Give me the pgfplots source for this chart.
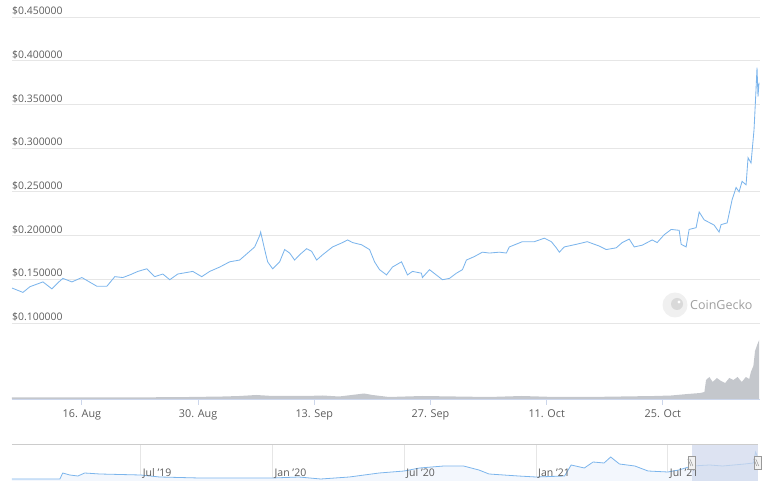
\documentclass[border=0pt]{standalone}
\usepackage{pgfplots}
\pgfplotsset{compat=1.18}
\usepackage{fontspec}
\setmainfont{Open Sans}
\definecolor{linec}{HTML}{7CB5EC}
\definecolor{gridc}{HTML}{E6E6E6}
\definecolor{labc}{HTML}{5C5C5C}
\definecolor{axc}{HTML}{CCD6EB}
\definecolor{navb}{HTML}{CCCCCC}
\definecolor{navfill}{HTML}{F3F7FD}
\definecolor{selc}{HTML}{D1DAED}
\definecolor{volc}{HTML}{C4C7CC}
\tikzset{navlab/.style={anchor=base west, inner sep=0pt, font=\fontsize{10.5}{12}\selectfont, text=labc, xshift=2pt, yshift=4pt}}

\pgfplotstableread{
d p
6.58 0.140
7.90 0.135
8.74 0.1415
10.31 0.147
11.39 0.139
12.11 0.146
12.71 0.151
13.80 0.147
15.00 0.152
15.72 0.148
16.81 0.142
18.01 0.142
18.97 0.153
19.93 0.152
20.78 0.155
21.74 0.159
22.82 0.162
23.78 0.153
24.75 0.156
25.59 0.1495
26.55 0.156
28.36 0.159
29.44 0.153
30.40 0.159
31.61 0.164
32.81 0.170
34.01 0.172
34.98 0.180
35.82 0.187
36.42 0.200
36.54 0.204
37.02 0.184
37.38 0.170
37.98 0.162
38.83 0.170
39.43 0.184
40.03 0.180
40.63 0.172
41.23 0.178
42.08 0.185
42.68 0.182
43.28 0.172
44.00 0.178
45.20 0.187
46.41 0.192
47.01 0.195
47.61 0.192
48.69 0.1895
49.66 0.184
50.26 0.170
50.86 0.161
51.70 0.155
52.42 0.164
53.51 0.170
54.23 0.155
54.83 0.159
55.90 0.157
56.03 0.152
56.88 0.161
58.44 0.1495
59.28 0.151
60.13 0.157
60.85 0.161
61.33 0.172
62.29 0.176
63.25 0.181
64.10 0.180
65.30 0.181
66.14 0.180
66.50 0.187
68.07 0.193
68.91 0.193
69.51 0.193
70.72 0.197
71.56 0.193
72.16 0.186
72.52 0.181
73.12 0.187
74.57 0.190
75.89 0.193
77.33 0.188
78.18 0.184
79.38 0.186
80.10 0.192
80.94 0.196
81.55 0.187
82.51 0.189
83.71 0.195
84.31 0.192
85.16 0.201
86.00 0.207
86.96 0.206
87.20 0.190
87.80 0.187
88.16 0.207
89.00 0.209
89.37 0.227
89.97 0.218
91.17 0.212
91.77 0.204
92.01 0.2125
92.74 0.2145
93.34 0.241
93.82 0.255
94.18 0.250
94.54 0.262
95.02 0.258
95.26 0.289
95.62 0.283
95.98 0.321
96.22 0.367
96.34 0.392
96.46 0.359
96.58 0.375
}\pricetable

\pgfplotstableread{
d v
6.58 1.5
10 1.5
20 1.5
28 2
32 2.5
34 3
36 4
38 3
42 3
44 3.5
46 2.5
48 4.5
49 5.5
50 4
52 2
56 3
60 2.5
64 2
68 3
72 2
76 2
80 2.5
84 3
86 3.5
88 5
89.5 6
90 7
90.2 19
90.6 22
91 17
91.5 21
92 18
92.5 16
93 21
93.5 19
94 22
94.5 17
95 22
95.4 20
95.6 27
95.9 33
96.1 48
96.4 55
96.6 59
}\voltable

\pgfplotstableread{
m v
0.14 2
2.32 2
2.45 8
2.77 6
3.14 5
3.45 8
4.14 7
6 6
6.86 4
8.68 3
12 3
13.2 4
14.2 2
15.5 4
16.86 8
18 10
18.7 13
19.8 15
20.7 15
21.4 11
21.86 7
23.2 5
24 4
25.3 5
25.6 16
26.2 13
26.6 19
27.1 18
27.4 24
27.8 17
28.5 15
29.1 10
30 9
30.5 11
31.1 15
31.9 16
32.5 15
33.5 17
33.9 18
34.0 29
34.1 23
}\navtable

\begin{document}
\begin{tikzpicture}
\useasboundingbox (0pt,0pt) rectangle (768pt,497pt);

% price pane
\begin{axis}[
  at={(12pt,174pt)}, anchor=south west, scale only axis,
  width=748pt, height=306pt,
  xmin=6.58, xmax=96.7, ymin=0.1, ymax=0.45,
  axis line style={draw=none},
  xtick=\empty,
  ytick={0.10,0.15,0.20,0.25,0.30,0.35,0.40,0.45},
  yticklabels={\$0.100000,\$0.150000,\$0.200000,\$0.250000,\$0.300000,\$0.350000,\$0.400000,\$0.450000},
  ymajorgrids, grid style={color=gridc, line width=0.8pt},
  major tick length=0pt,
  yticklabel style={anchor=south west, inner sep=0pt, yshift=1.5pt,
    font=\fontsize{10.4}{12}\selectfont, text=labc},
]
\addplot[color=linec, line width=0.85pt] table[x=d, y=p] {\pricetable};
\end{axis}

% volume pane with date axis
\begin{axis}[
  at={(12pt,98pt)}, anchor=south west, scale only axis,
  width=748pt, height=64pt,
  xmin=6.58, xmax=96.7, ymin=0, ymax=64,
  axis x line*=bottom, axis y line=none,
  x axis line style={color=axc, line width=0.8pt, -},
  xtick={15,29,43,57,71,85},
  xticklabels={16. Aug,30. Aug,13. Sep,27. Sep,11. Oct,25. Oct},
  ytick=\empty,
  tick style={color=axc, line width=0.8pt},
  major tick length=6pt, tick align=outside,
  xticklabel style={font=\fontsize{10.8}{12}\selectfont, text=labc, yshift=-1pt},
]
\addplot[draw=none, fill=volc] table[x=d, y=v] {\voltable} \closedcycle;
\end{axis}

% navigator
\begin{axis}[
  at={(12pt,16pt)}, anchor=south west, scale only axis,
  width=748pt, height=37pt,
  xmin=0.14, xmax=34.2, ymin=0, ymax=37,
  axis line style={draw=none},
  xtick={6,12,18,24,30}, xticklabels=\empty,
  xmajorgrids, grid style={color=gridc, line width=0.8pt},
  ytick=\empty, major tick length=0pt,
  clip=false,
]
\addplot[draw=none, fill=navfill] table[x=m, y=v] {\navtable} \closedcycle;
\addplot[color=linec, line width=0.8pt] table[x=m, y=v] {\navtable};
\fill[selc, fill opacity=0.75] (axis cs:31.1,0) rectangle (axis cs:34.1,37);
\draw[navb, line width=0.8pt] (rel axis cs:0,1) -- (axis cs:31.1,37);
\draw[navb, line width=0.8pt] (axis cs:31.1,37) -- (axis cs:34.1,37);
\node[navlab] at (axis cs:6,0) {Jul '19};
\node[navlab] at (axis cs:12,0) {Jan '20};
\node[navlab] at (axis cs:18,0) {Jul '20};
\node[navlab] at (axis cs:24,0) {Jan '21};
\node[navlab] at (axis cs:30,0) {Jul '21};
\draw[fill=white!95!black, draw=gray!80, line width=0.6pt]
  (axis cs:31.1,18.5) ++(-3.5pt,-6.5pt) rectangle ++(7pt,13pt);
\draw[gray!80, line width=0.5pt] (axis cs:31.1,18.5) ++(-1pt,-3.5pt) -- ++(0,7pt);
\draw[gray!80, line width=0.5pt] (axis cs:31.1,18.5) ++(1pt,-3.5pt) -- ++(0,7pt);
\draw[fill=white!95!black, draw=gray!80, line width=0.6pt]
  (axis cs:34.1,18.5) ++(-3.5pt,-6.5pt) rectangle ++(7pt,13pt);
\draw[gray!80, line width=0.5pt] (axis cs:34.1,18.5) ++(-1pt,-3.5pt) -- ++(0,7pt);
\draw[gray!80, line width=0.5pt] (axis cs:34.1,18.5) ++(1pt,-3.5pt) -- ++(0,7pt);
\end{axis}

% watermark
\fill[gray!12] (675pt,192pt) circle (12.5pt);
\fill[gray!30] (677pt,193pt) circle (6pt);
\fill[white] (679pt,195pt) circle (1.6pt);
\node[anchor=west, inner sep=0pt, text=gray!75, font=\fontsize{12.5}{14}\selectfont] at (690pt,192pt) {CoinGecko};
\end{tikzpicture}
\end{document}
